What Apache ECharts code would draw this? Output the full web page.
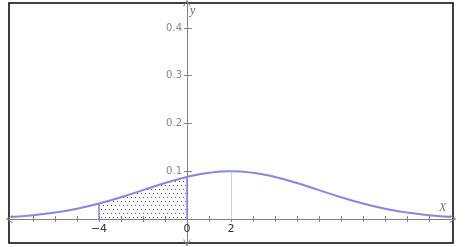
<!DOCTYPE html>
<html><head><meta charset="utf-8">
<script src="https://cdn.jsdelivr.net/npm/echarts@6/dist/echarts.min.js"></script>
<style>html,body{margin:0;padding:0;background:#fff}#c{width:469px;height:247px}</style>
</head><body><div id="c"></div>
<script>
// Values (density curve, peak ≈ 0.1 at x = 2)
var xValues = [-8,-7,-6,-5,-4,-3,-2,-1,0,1,2,3,4,5,6,7,8,9,10,11,12];
var yValues = [0.0044,0.0079,0.0135,0.0216,0.0324,0.0456,0.0605,0.0753,0.0880,0.0966,0.0997,0.0966,0.0880,0.0753,0.0605,0.0456,0.0324,0.0216,0.0135,0.0079,0.0044];
var shadeFrom = -4, shadeTo = 0;
var peakX = 2;
var xTickValues = [-7,-6,-5,-4,-3,-2,-1,0,1,2,3,4,5,6,7,8,9,10,11];
var xLabelValues = [-4,0,2];
var yTickValues = [0.1,0.2,0.3,0.4];

var curve = xValues.map(function(x,i){return [x,yValues[i]];});
var shade = curve.filter(function(p){return p[0]>=shadeFrom && p[0]<=shadeTo;});
function yAt(x){return yValues[xValues.indexOf(x)];}

// dotted pattern
var pc = document.createElement('canvas');
pc.width = 4; pc.height = 8;
var g = pc.getContext('2d');
g.fillStyle = '#55557a';
g.fillRect(1,1,1,1);
g.fillRect(3,5,1,1);

var W = 469, H = 247;
var GL = 9, GR = 16, GT = 3, GB = 4;
var X0 = -8.09, X1 = 12.09, Y0 = -0.0503, Y1 = 0.4523;
var gw = W - GL - GR, gh = H - GT - GB;
// offsets that put each axis through the other's zero
var xAxisOffset = -Math.round((0 - Y0) / (Y1 - Y0) * gh);
var yAxisOffset = -Math.round((0 - X0) / (X1 - X0) * gw);

var chart = echarts.init(document.getElementById('c'), null, {renderer:'canvas'});
var axisCol = '#808080';
var arrowPath = 'path://M5,0 L10,9 L8.8,9 L5,2.2 L1.2,9 L0,9 Z';
function xAx(k){
  var first = k===0;
  return {type:'value', min:X0, max:X1, position:'bottom', offset:xAxisOffset,
    axisLine:{show:true, onZero:false, lineStyle:{color:axisCol,width:1},
      symbol: first?[arrowPath,arrowPath]:'none', symbolSize:[8,7]},
    axisTick:{show:true, inside:!first, length:3, customValues:xTickValues, lineStyle:{color:axisCol}},
    axisLabel:{show:first, customValues:xLabelValues, margin:5, color:'#333', fontSize:11, fontFamily:'DejaVu Sans',
      formatter:function(v){return v<0?'\u2212'+Math.abs(v):String(v);}},
    splitLine:{show:false}};
}
function yAx(k){
  var first = k===0;
  return {type:'value', min:Y0, max:Y1, position:'left', offset:yAxisOffset,
    axisLine:{show:true, onZero:false, lineStyle:{color:axisCol,width:1},
      symbol: first?[arrowPath,arrowPath]:'none', symbolSize:[8,7]},
    axisTick:{show:true, inside:!first, length:first?3:5, customValues:yTickValues, lineStyle:{color:axisCol}},
    axisLabel:{show:first, customValues:yTickValues, margin:5, color:'#888', fontSize:10, fontFamily:'DejaVu Sans',
      formatter:function(v){return v.toFixed(1);}},
    splitLine:{show:false}};
}
chart.setOption({
  animation:false,
  grid:{left:GL, right:GR, top:GT, bottom:GB, containLabel:false, outerBoundsMode:'none',
    show:true, borderColor:'#000', borderWidth:1.5, backgroundColor:'transparent'},
  xAxis:[xAx(0), xAx(1)],
  yAxis:[yAx(0), yAx(1)],
  graphic:[
    {type:'text', left:190, top:5, style:{text:'y', font:'italic 12px "Liberation Serif"', fill:'#666'}},
    {type:'text', left:439, top:202, style:{text:'X', font:'italic 12px "Liberation Serif"', fill:'#777'}}
  ],
  series:[
    {type:'line', data:shade, smooth:true, symbol:'none', z:1,
      lineStyle:{width:0}, areaStyle:{color:{image:pc, repeat:'repeat'}, opacity:1},
      markLine:{silent:true, symbol:'none', label:{show:false},
        data:[
          [{coord:[shadeFrom,0],lineStyle:{color:'#8585e6',width:1.5,type:'solid'}},{coord:[shadeFrom,yAt(shadeFrom)]}],
          [{coord:[shadeTo,0],lineStyle:{color:'#8585e6',width:1.5,type:'solid'}},{coord:[shadeTo,yAt(shadeTo)]}],
          [{coord:[peakX,0],lineStyle:{color:'#d0d0d0',width:1,type:'solid'}},{coord:[peakX,yAt(peakX)]}]
        ]}},
    {type:'line', data:curve, smooth:true, symbol:'none', z:3,
      lineStyle:{color:'#8585e6', width:2}}
  ]
});
</script></body></html>
